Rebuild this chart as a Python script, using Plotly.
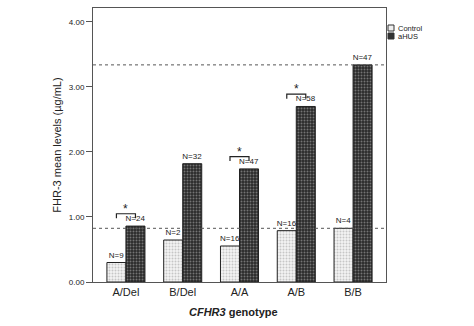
import plotly.graph_objects as go

genotypes = ["A/Del", "B/Del", "A/A", "A/B", "B/B"]
control_vals = [0.30, 0.646, 0.554, 0.79, 0.826]
ahus_vals = [0.86, 1.82, 1.74, 2.70, 3.34]
control_n = ["N=9", "N=2", "N=16", "N=16", "N=4"]
ahus_n = ["N=24", "N=32", "N=47", "N=58", "N=47"]
signif_idx = [0, 2, 3]
yticks = [0, 1, 2, 3, 4]
legend_names = ["Control", "aHUS"]

FONT = "Liberation Sans, Arial, sans-serif"
xs = list(range(len(genotypes)))

# plot-area geometry in pixels (for paper-coordinate legend/title placement)
W, H = 474, 326
L, R, T, B = 93, 88, 8, 44
PW, PH = W - L - R, H - T - B


def px(x):
    return (x - L) / PW


def py(y):
    return (H - B - y) / PH


ctrl_marker = dict(color="#ececec", line=dict(color="#222", width=1),
                   pattern=dict(shape=".", bgcolor="#f2f2f2", fgcolor="#9a9a9a", size=3, solidity=0.35))
ahus_marker = dict(color="#333", line=dict(color="#222", width=1),
                   pattern=dict(shape=".", bgcolor="#2a2a2a", fgcolor="#bdbdbd", size=3, solidity=0.35))

fig = go.Figure()
fig.add_trace(go.Bar(
    x=xs, y=control_vals, name=legend_names[0], marker=ctrl_marker,
    text=control_n, textposition="outside", constraintext="none", cliponaxis=False,
    textfont=dict(size=8, color="#222", family=FONT), showlegend=False,
))
fig.add_trace(go.Bar(
    x=xs, y=ahus_vals, name=legend_names[1], marker=ahus_marker,
    text=ahus_n, textposition="outside", constraintext="none", cliponaxis=False,
    textfont=dict(size=8, color="#222", family=FONT), showlegend=False,
))

# reference dashed lines at B/B levels
for v in (control_vals[-1], ahus_vals[-1]):
    fig.add_shape(type="line", xref="paper", yref="y", x0=0, x1=1, y0=v, y1=v,
                  line=dict(color="#555", width=1, dash="dot"))

# significance brackets
half = 0.335 / 2
for i in signif_idx:
    top = max(control_vals[i], ahus_vals[i]) + 0.19
    xl, xr = xs[i] - half, xs[i] + half
    fig.add_shape(type="path", xref="x", yref="y",
                  path=f"M {xl},{top-0.07} L {xl},{top} L {xr},{top} L {xr},{top-0.07}",
                  line=dict(color="#222", width=1.2))
    fig.add_annotation(x=xs[i], y=top, text="*", showarrow=False, yanchor="bottom", yshift=-4,
                       font=dict(size=12, color="#222", family=FONT))

# compact manual legend
leg_fill = ["#efefef", "#333333"]
for k, name in enumerate(legend_names):
    yc = 28 + 8 * k
    fig.add_shape(type="rect", xref="paper", yref="paper",
                  x0=px(388), x1=px(394), y0=py(yc + 3), y1=py(yc - 3),
                  fillcolor=leg_fill[k], line=dict(color="#333", width=1))
    fig.add_annotation(xref="paper", yref="paper", x=px(396), y=py(yc), xanchor="left", yanchor="middle",
                       text=name, showarrow=False, font=dict(size=7.5, color="#222", family=FONT))

fig.add_annotation(xref="paper", yref="paper", x=px(233.5), y=py(312), yanchor="middle",
                   text="<b><i>CFHR3</i> genotype</b>", showarrow=False,
                   font=dict(size=11, color="#222", family=FONT))

fig.update_layout(
    width=W, height=H,
    margin=dict(l=L, r=R, t=T, b=B),
    paper_bgcolor="white", plot_bgcolor="white",
    barmode="group", bargap=0.33, bargroupgap=0,
    font=dict(family=FONT, color="#222"),
    showlegend=False,
    xaxis=dict(tickmode="array", tickvals=xs, ticktext=genotypes, range=[-0.58, 4.58],
               showline=True, linecolor="#555", linewidth=1, mirror=True, ticks="",
               tickfont=dict(size=11, color="#222"), showgrid=False, zeroline=False),
    yaxis=dict(range=[0, 4.215], tickvals=yticks, tickformat=".2f", ticks="outside", ticklen=6,
               tickcolor="#555", showline=True, linecolor="#555", linewidth=1, mirror=True,
               tickfont=dict(size=8, color="#222"), showgrid=False, zeroline=False,
               title=dict(text="FHR-3 mean levels (µg/mL)", font=dict(size=11, color="#222"), standoff=4)),
)

fig.write_html("out.html")
